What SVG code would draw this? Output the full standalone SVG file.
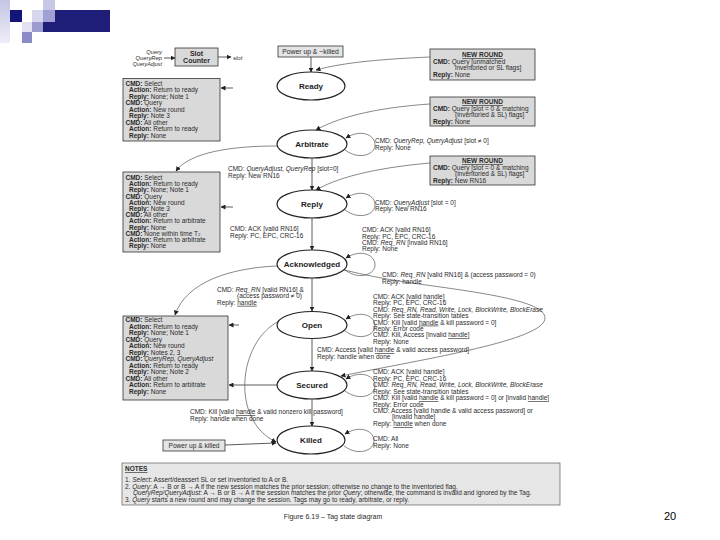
<svg xmlns="http://www.w3.org/2000/svg" width="720" height="540" viewBox="0 0 720 540">
<defs>
<style>
.t{font-family:"Liberation Sans",Arial,sans-serif;font-size:6.5px;fill:#2a2a2a}
.b{font-weight:bold}
.i{font-style:italic}
.u{text-decoration:underline}
.st{font-family:"Liberation Sans",Arial,sans-serif;font-size:8px;font-weight:bold;fill:#222;text-anchor:middle}
.box{fill:#d9d9d9;stroke:#333;stroke-width:0.8}
.ell{fill:#fff;stroke:#222;stroke-width:1.2}
.ln{fill:none;stroke:#333;stroke-width:0.8}
.cv{fill:none;stroke:#555;stroke-width:0.7}
</style>
<marker id="ah" viewBox="0 0 10 10" refX="9" refY="5" markerWidth="5" markerHeight="5" orient="auto" markerUnits="userSpaceOnUse"><path d="M0,0 L10,5 L0,10 z" fill="#222"/></marker>
<linearGradient id="lg" x1="0" y1="0" x2="0" y2="1"><stop offset="0" stop-color="#c4c4e6"/><stop offset="1" stop-color="#eeeef8"/></linearGradient>
</defs>
<rect width="720" height="540" fill="#fff"/>
<g id="decor">
<rect x="0" y="0" width="10" height="43" fill="url(#lg)"/>
<rect x="10" y="10" width="12" height="12" fill="#14147a"/>
<rect x="32" y="10" width="11" height="12" fill="#d6d6ee"/>
<rect x="43" y="0" width="12" height="10" fill="#c8c8e6"/>
<rect x="43" y="10" width="67" height="22" fill="#1e1e78"/>
<rect x="43" y="10" width="12" height="12" fill="#a0a0d4"/>
<rect x="22" y="22" width="10" height="10" fill="#e2e2f2"/>
<rect x="32" y="22" width="11" height="10" fill="#9c9cd0"/>
<rect x="22" y="32" width="10" height="11" fill="#8a8ac6"/>
</g>

<g id="connectors">
<line class="ln" x1="164" y1="58" x2="175" y2="58" marker-end="url(#ah)"/>
<line class="ln" x1="218" y1="57" x2="231" y2="57" marker-end="url(#ah)"/>
<line class="ln" x1="311" y1="57" x2="311" y2="72" marker-end="url(#ah)"/>
<path class="cv" d="M430,57 C385,59 345,62 316,70" marker-end="url(#ah)"/>
<path class="cv" d="M430,104 C385,107 342,115 316,130" marker-end="url(#ah)"/>
<path class="cv" d="M430,163 C385,167 342,175 316,190" marker-end="url(#ah)"/>
<line class="ln" x1="233" y1="88" x2="221" y2="88" marker-end="url(#ah)"/>
<path class="cv" d="M277,146 C232,146 190,152 176,171" marker-end="url(#ah)"/>
<line class="ln" x1="312" y1="158" x2="312" y2="190" marker-end="url(#ah)"/>
<line class="ln" x1="233" y1="207" x2="221" y2="207" marker-end="url(#ah)"/>
<line class="ln" x1="312" y1="218" x2="312" y2="250" marker-end="url(#ah)"/>
<path class="cv" d="M277,266 C230,268 186,282 175,315" marker-end="url(#ah)"/>
<line class="ln" x1="312" y1="278" x2="312" y2="311" marker-end="url(#ah)"/>
<path class="cv" d="M344,270 C365,275 385,279 405,282 C475,292 545,300 545,318 C545,340 430,358 341,376" marker-end="url(#ah)"/>
<line class="ln" x1="239" y1="325" x2="229" y2="325" marker-end="url(#ah)"/>
<line class="ln" x1="312" y1="338" x2="312" y2="371" marker-end="url(#ah)"/>
<line class="ln" x1="277" y1="385" x2="229" y2="385" marker-end="url(#ah)"/>
<path class="cv" d="M279,321 C238,342 230,420 276,442" marker-end="url(#ah)"/>
<line class="ln" x1="312" y1="399" x2="312" y2="426" marker-end="url(#ah)"/>
<line class="ln" x1="225" y1="445" x2="276" y2="443" marker-end="url(#ah)"/>
<path class="cv" d="M345,150 C360,161 376,154 375,144 C374,134 360,129 346,138" marker-end="url(#ah)"/>
<path class="cv" d="M345,210 C360,221 376,214 375,204 C374,194 360,189 346,198" marker-end="url(#ah)"/>
<path class="cv" d="M345,270 C360,281 376,274 375,264 C374,254 360,249 346,258" marker-end="url(#ah)"/>
<path class="cv" d="M345,331 C360,342 376,335 375,325 C374,315 360,310 346,319" marker-end="url(#ah)"/>
<path class="cv" d="M345,391 C360,402 376,395 375,385 C374,375 360,370 346,379" marker-end="url(#ah)"/>
<path class="cv" d="M344,446 C359,457 375,450 374,440 C373,430 359,425 345,434" marker-end="url(#ah)"/>
</g>

<g id="slotcounter">
<text class="t i" x="162" y="54" text-anchor="end" style="font-size:5.8px">Query</text>
<text class="t i" x="162" y="60" text-anchor="end" style="font-size:5.8px">QueryRep</text>
<text class="t i" x="162" y="66" text-anchor="end" style="font-size:5.3px">QueryAdjust</text>
<rect class="box" x="175" y="48" width="43" height="18"/>
<text class="t b" x="196.5" y="55.5" text-anchor="middle" style="font-size:7px">Slot</text>
<text class="t b" x="196.5" y="63" text-anchor="middle" style="font-size:7px">Counter</text>
<text class="t i" x="233" y="59.5" style="font-size:6px">slot</text>
</g>

<g id="powerup1">
<rect class="box" x="278" y="46" width="65" height="11" style="fill:#e4e4e4"/>
<text class="t" x="310.5" y="53.5" text-anchor="middle" style="font-size:6.8px">Power up &amp; ~killed</text>
</g>

<g id="ready"><ellipse class="ell" cx="311" cy="86" rx="34" ry="14"/><text class="st" x="311" y="89">Ready</text></g>
<g id="arbitrate"><ellipse class="ell" cx="312" cy="144" rx="35" ry="14"/><text class="st" x="312" y="147">Arbitrate</text></g>
<g id="reply"><ellipse class="ell" cx="312" cy="204" rx="35" ry="14"/><text class="st" x="312" y="207">Reply</text></g>
<g id="acknowledged"><ellipse class="ell" cx="312" cy="264" rx="35" ry="14"/><text class="st" x="312" y="267">Acknowledged</text></g>
<g id="open"><ellipse class="ell" cx="312" cy="325" rx="35" ry="13.5"/><text class="st" x="312" y="328">Open</text></g>
<g id="secured"><ellipse class="ell" cx="312" cy="385" rx="35" ry="14"/><text class="st" x="312" y="388">Secured</text></g>
<g id="killed"><ellipse class="ell" cx="311" cy="440" rx="34" ry="14"/><text class="st" x="311" y="443">Killed</text></g>

<g id="newround1">
<rect class="box" x="430" y="49" width="105" height="31"/>
<text class="t b u" x="482.5" y="57.3" text-anchor="middle">NEW ROUND</text>
<text class="t" x="433" y="63.8"><tspan class="b">CMD:</tspan> Query [unmatched</text>
<text class="t" x="455" y="70.3">inventoried or SL flags]</text>
<text class="t" x="433" y="77"><tspan class="b">Reply:</tspan> None</text>
</g>
<g id="newround2">
<rect class="box" x="430" y="97" width="105" height="29"/>
<text class="t b u" x="482.5" y="104.3" text-anchor="middle">NEW ROUND</text>
<text class="t" x="433" y="110.8"><tspan class="b">CMD:</tspan> Query [slot = 0 &amp; matching</text>
<text class="t" x="455" y="117.3">(inventoried &amp; SL) flags]</text>
<text class="t" x="433" y="123.8"><tspan class="b">Reply:</tspan> None</text>
</g>
<g id="newround3">
<rect class="box" x="430" y="156" width="105" height="29"/>
<text class="t b u" x="482.5" y="163.3" text-anchor="middle">NEW ROUND</text>
<text class="t" x="433" y="169.8"><tspan class="b">CMD:</tspan> Query [slot = 0 &amp; matching</text>
<text class="t" x="455" y="176.3">(inventoried &amp; SL) flags]</text>
<text class="t" x="433" y="182.8"><tspan class="b">Reply:</tspan> New RN16</text>
</g>

<g id="leftbox1">
<rect class="box" x="123" y="78.5" width="97" height="62.5"/>
<text class="t" x="125.5" y="85.8"><tspan class="b">CMD:</tspan> Select</text>
<text class="t" x="129" y="92.3"><tspan class="b">Action:</tspan> Return to ready</text>
<text class="t" x="129" y="98.8"><tspan class="b">Reply:</tspan> None; Note 1</text>
<text class="t" x="125.5" y="105.3"><tspan class="b">CMD:</tspan> Query</text>
<text class="t" x="129" y="111.8"><tspan class="b">Action:</tspan> New round</text>
<text class="t" x="129" y="118.3"><tspan class="b">Reply:</tspan> Note 3</text>
<text class="t" x="125.5" y="124.8"><tspan class="b">CMD:</tspan> All other</text>
<text class="t" x="129" y="131.3"><tspan class="b">Action:</tspan> Return to ready</text>
<text class="t" x="129" y="137.8"><tspan class="b">Reply:</tspan> None</text>
</g>

<g id="leftbox2">
<rect class="box" x="123" y="172" width="97" height="80"/>
<text class="t" x="125.5" y="180"><tspan class="b">CMD:</tspan> Select</text>
<text class="t" x="129" y="186.2"><tspan class="b">Action:</tspan> Return to ready</text>
<text class="t" x="129" y="192.4"><tspan class="b">Reply:</tspan> None; Note 1</text>
<text class="t" x="125.5" y="198.6"><tspan class="b">CMD:</tspan> Query</text>
<text class="t" x="129" y="204.8"><tspan class="b">Action:</tspan> New round</text>
<text class="t" x="129" y="211"><tspan class="b">Reply:</tspan> Note 3</text>
<text class="t" x="125.5" y="217.2"><tspan class="b">CMD:</tspan> All other</text>
<text class="t" x="129" y="223.4"><tspan class="b">Action:</tspan> Return to arbitrate</text>
<text class="t" x="129" y="229.6"><tspan class="b">Reply:</tspan> None</text>
<text class="t" x="125.5" y="235.6"><tspan class="b">CMD:</tspan> None within time T<tspan style="font-size:4.2px">2</tspan></text>
<text class="t" x="129" y="242"><tspan class="b">Action:</tspan> Return to arbitrate</text>
<text class="t" x="129" y="248.2"><tspan class="b">Reply:</tspan> None</text>
</g>

<g id="leftbox3">
<rect class="box" x="123" y="316" width="105" height="84"/>
<text class="t" x="125.5" y="322.3"><tspan class="b">CMD:</tspan> Select</text>
<text class="t" x="129" y="328.8"><tspan class="b">Action:</tspan> Return to ready</text>
<text class="t" x="129" y="335.3"><tspan class="b">Reply:</tspan> None; Note 1</text>
<text class="t" x="125.5" y="341.8"><tspan class="b">CMD:</tspan> Query</text>
<text class="t" x="129" y="348.3"><tspan class="b">Action:</tspan> New round</text>
<text class="t" x="129" y="354.8"><tspan class="b">Reply:</tspan> Notes 2, 3</text>
<text class="t" x="125.5" y="361.3"><tspan class="b">CMD:</tspan> <tspan class="i">QueryRep, QueryAdjust</tspan></text>
<text class="t" x="129" y="367.8"><tspan class="b">Action:</tspan> Return to ready</text>
<text class="t" x="129" y="374.3"><tspan class="b">Reply:</tspan> None; Note 2</text>
<text class="t" x="125.5" y="380.8"><tspan class="b">CMD:</tspan> All other</text>
<text class="t" x="129" y="387.3"><tspan class="b">Action:</tspan> Return to arbitrate</text>
<text class="t" x="129" y="393.8"><tspan class="b">Reply:</tspan> None</text>
</g>

<g id="powerup2">
<rect class="box" x="163" y="440" width="62" height="11" style="fill:#e4e4e4"/>
<text class="t" x="194" y="447.5" text-anchor="middle" style="font-size:6.6px">Power up &amp; killed</text>
</g>

<g id="labels">
<text class="t" x="375" y="143.3">CMD: <tspan class="i">QueryRep, QueryAdjust</tspan> [slot ≠ 0]</text>
<text class="t" x="375" y="149.8">Reply: None</text>
<text class="t" x="228" y="171.3">CMD: <tspan class="i">QueryAdjust, QueryRep</tspan> [slot=0]</text>
<text class="t" x="228" y="177.5">Reply: New RN16</text>
<text class="t" x="375" y="205">CMD: <tspan class="i">QueryAdjust</tspan> [slot = 0]</text>
<text class="t" x="375" y="211.3">Reply: New RN16</text>
<text class="t" x="230" y="231.3">CMD: ACK [valid RN16]</text>
<text class="t" x="230" y="237.6">Reply: PC, EPC, CRC-16</text>
<text class="t" x="362" y="232.3">CMD: ACK [valid RN16]</text>
<text class="t" x="362" y="238.6">Reply: PC, EPC, CRC-16</text>
<text class="t" x="362" y="244.9">CMD: <tspan class="i">Req_RN</tspan> [invalid RN16]</text>
<text class="t" x="362" y="251.2">Reply: None</text>
<text class="t" x="382" y="277.3">CMD: <tspan class="i">Req_RN</tspan> [valid RN16] &amp; (access password = 0)</text>
<text class="t" x="382" y="283.8">Reply: handle</text>
<text class="t" x="217" y="292">CMD: <tspan class="i">Req_RN</tspan> [valid RN16] &amp;</text>
<text class="t" x="237" y="298.3">(access password ≠ 0)</text>
<text class="t" x="217" y="304.8">Reply: <tspan class="u">handle</tspan></text>
<text class="t" x="373" y="299">CMD: ACK [valid handle]</text>
<text class="t" x="373" y="305.4">Reply: PC, EPC, CRC-16</text>
<text class="t" x="373" y="311.8">CMD: <tspan class="i">Req_RN, Read, Write, Lock, BlockWrite, BlockErase</tspan></text>
<text class="t" x="373" y="318.2">Reply: See state-transition tables</text>
<text class="t" x="373" y="324.6">CMD: Kill [valid <tspan class="u">handle</tspan> &amp; kill password = 0]</text>
<text class="t" x="373" y="331">Reply: Error code</text>
<text class="t" x="373" y="337.4">CMD: Kill, Access [invalid <tspan class="u">handle</tspan>]</text>
<text class="t" x="373" y="343.8">Reply: None</text>
<text class="t" x="317" y="352">CMD: Access [valid <tspan class="u">handle</tspan> &amp; valid access password]</text>
<text class="t" x="317" y="358.5">Reply: handle when done</text>
<text class="t" x="373" y="374.3">CMD: ACK [valid handle]</text>
<text class="t" x="373" y="380.8">Reply: PC, EPC, CRC-16</text>
<text class="t" x="373" y="387.3">CMD: <tspan class="i">Req_RN, Read, Write, Lock, BlockWrite, BlockErase</tspan></text>
<text class="t" x="373" y="393.8">Reply: See state-transition tables</text>
<text class="t" x="373" y="400.3">CMD: Kill [valid <tspan class="u">handle</tspan> &amp; kill password = 0] or [invalid <tspan class="u">handle</tspan>]</text>
<text class="t" x="373" y="406.8">Reply: Error code</text>
<text class="t" x="373" y="413.3">CMD: Access [valid handle &amp; valid access password] or</text>
<text class="t" x="392" y="419.3">[invalid handle]</text>
<text class="t" x="373" y="426">Reply: <tspan class="u">handle</tspan> when done</text>
<text class="t" x="190" y="414">CMD: Kill [valid <tspan class="u">handle</tspan> &amp; valid nonzero kill password]</text>
<text class="t" x="190" y="420.5">Reply: handle when done</text>
<text class="t" x="373" y="441">CMD: All</text>
<text class="t" x="373" y="447.5">Reply: None</text>
</g>

<g id="notes">
<rect x="122" y="463" width="438" height="42" fill="#e6e6e6" stroke="#444" stroke-width="0.6"/>
<text class="t b u" x="125" y="471">NOTES</text>
<text class="t" x="125" y="482.3">1. <tspan class="i">Select</tspan>: Assert/deassert SL or set inventoried to A or B.</text>
<text class="t" x="125" y="488.8">2. <tspan class="i">Query</tspan>: A → B or B → A if the new session matches the prior session; otherwise no change to the inventoried flag.</text>
<text class="t" x="133" y="495.3"><tspan class="i">QueryRep/QueryAdjust</tspan>: A → B or B → A if the session matches the prior <tspan class="i">Query</tspan>; otherwise, the command is invalid and ignored by the Tag.</text>
<text class="t" x="125" y="501.8">3. <tspan class="i">Query</tspan> starts a new round and may change the session. Tags may go to ready, arbitrate, or reply.</text>
</g>

<text class="t" x="333" y="518.5" text-anchor="middle" style="font-size:7px">Figure 6.19 – Tag state diagram</text>
<text x="670" y="520" text-anchor="middle" font-family="Liberation Sans, Arial, sans-serif" font-size="11" fill="#000">20</text>
</svg>
